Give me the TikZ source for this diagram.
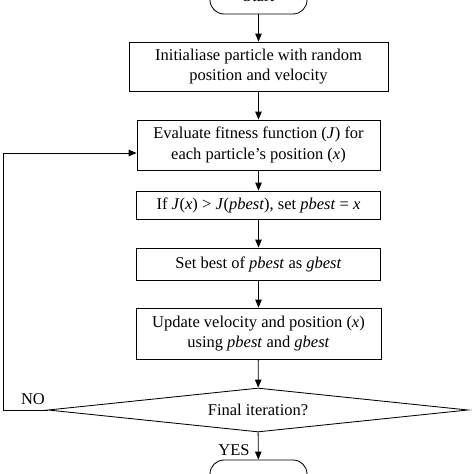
\documentclass[tikz,border=0pt]{standalone}
\usepackage{fontspec}
\setmainfont{Liberation Serif}
\usetikzlibrary{shapes.geometric,arrows.meta}
\begin{document}
\begin{tikzpicture}[x=1pt,y=-1pt,
  every node/.style={font=\fontsize{16.5}{20.5}\selectfont},
  box/.style={draw,line width=0.85pt,align=center,inner sep=0pt},
  term/.style={draw,line width=0.85pt,rounded corners=14pt,minimum width=97pt,minimum height=40pt,inner sep=0pt},
  dec/.style={draw,line width=0.85pt,diamond,aspect=9.6,inner sep=0pt,minimum width=420pt,minimum height=44pt},
  arr/.style={line width=0.85pt,-{Triangle[length=8pt,width=6.5pt]}},
  lbl/.style={inner sep=0pt}]
\useasboundingbox (0,0) rectangle (474,474);
\clip (0,0) rectangle (474,474);
\node[term] (start) at (258.5,-6) {};
\node[inner sep=0pt,anchor=base] (starttxt) at (258.5,1) {Start};
\node[box,minimum width=259pt,minimum height=49pt] (init) at (258.5,66.5) {Initialiase particle with random\\position and velocity};
\node[box,minimum width=243pt,minimum height=50pt] (eval) at (258.5,145) {Evaluate fitness function (\textit{J}) for\\each particle’s position (\textit{x})};
\node[box,minimum width=244pt,minimum height=28pt] (pb) at (258.5,205) {If \textit{J}(\textit{x}) > \textit{J}(\textit{pbest}), set \textit{pbest} = \textit{x}};
\node[box,minimum width=244pt,minimum height=32pt] (gb) at (258.5,264) {Set best of \textit{pbest} as \textit{gbest}};
\node[box,minimum width=245pt,minimum height=51pt] (upd) at (258.5,333.5) {Update velocity and position (\textit{x})\\using \textit{pbest} and \textit{gbest}};
\node[dec] (fin) at (258,410) {Final iteration?};
\node[term,minimum height=50pt] (end) at (258.5,485) {End};
\coordinate (lt) at (3,410);
\coordinate (lb) at (3,153);
\coordinate (ein) at (eval.west |- lb);
\draw[arr] (start) -- (init);
\draw[arr] (init) -- (eval);
\draw[arr] (eval) -- (pb);
\draw[arr] (pb) -- (gb);
\draw[arr] (gb) -- (upd);
\draw[arr] (upd) -- (fin);
\draw[arr] (fin) -- (end);
\draw[arr] (fin.west) -- (lt) -- (lb) -- (ein);
\node[lbl] (no) at (33,399) {NO};
\node[lbl] (yes) at (234,450) {YES};
\end{tikzpicture}
\end{document}
